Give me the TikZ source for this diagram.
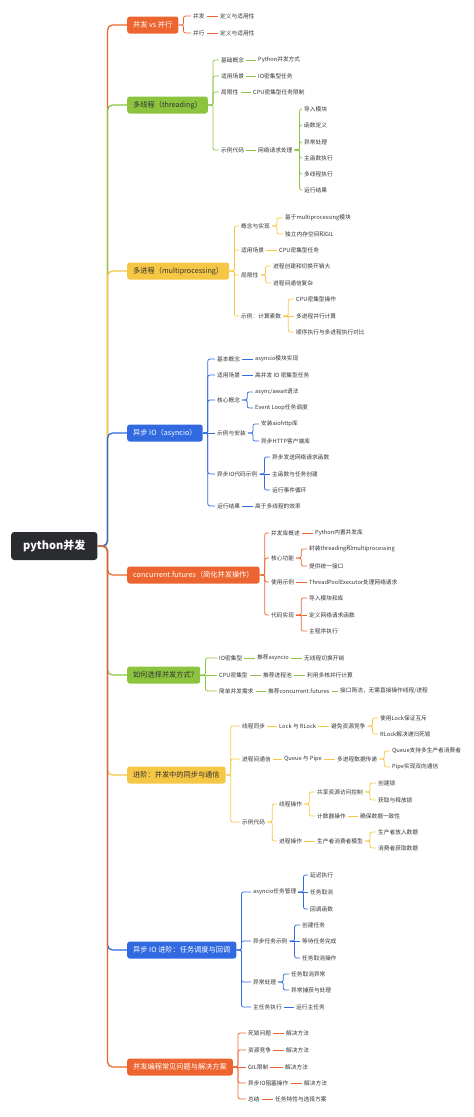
\documentclass[tikz,border=0pt]{standalone}
\usepackage{fontspec}
\newfontfamily\cjk{Noto Sans CJK SC}
\definecolor{rootgray}{HTML}{2B2C30}
\definecolor{inkgray}{HTML}{333333}
\definecolor{orangeC}{HTML}{EC6530}
\definecolor{greenC}{HTML}{8CC43F}
\definecolor{yellowC}{HTML}{F6C744}
\definecolor{blueC}{HTML}{3069E0}
\tikzset{
  root/.style={fill=rootgray, text=white, anchor=west, rounded corners=3pt,
    minimum height=28pt, inner xsep=12pt, font=\cjk\bfseries\fontsize{11}{13}\selectfont},
  topic/.style={anchor=west, rounded corners=2.5pt, minimum height=17pt,
    inner xsep=6pt, inner ysep=0pt, font=\cjk\fontsize{7.2}{8.6}\selectfont},
  leaf/.style={anchor=west, inner xsep=2pt, inner ysep=1pt, text=inkgray,
    font=\cjk\fontsize{5.7}{6.8}\selectfont},
  spine/.style={line width=1.3pt, rounded corners=5pt},
  link/.style={line width=0.75pt, rounded corners=2pt},
}
\begin{document}
\begin{tikzpicture}[x=1pt,y=-1pt]
\useasboundingbox (0,0) rectangle (474,1117);
% root
\node[root] (root) at (11,546) {python并发};
% main topics
\node[topic, fill=orangeC, text=white] (b1) at (127,25) {并发 vs 并行};
\node[topic, fill=greenC, text=inkgray] (b2) at (127,105) {多线程（threading）};
\node[topic, fill=yellowC, text=inkgray] (b3) at (127,271) {多进程（multiprocessing）};
\node[topic, fill=blueC, text=white] (b4) at (127,433) {异步 IO（asyncio）};
\node[topic, fill=orangeC, text=white] (b5) at (127,575) {concurrent.futures（简化并发操作）};
\node[topic, fill=greenC, text=inkgray] (b6) at (127,675) {如何选择并发方式?};
\node[topic, fill=yellowC, text=inkgray] (b7) at (127,775) {进阶：并发中的同步与通信};
\node[topic, fill=blueC, text=white] (b8) at (127,950) {异步 IO 进阶：任务调度与回调};
\node[topic, fill=orangeC, text=white] (b9) at (127,1067) {并发编程常见问题与解决方案};
% spine, later branches on top
\foreach \t/\col in {b1/orangeC,b2/greenC,b3/yellowC,b4/blueC,b5/orangeC,b6/greenC,b7/yellowC,b8/blueC,b9/orangeC}
  \draw[spine,\col] (root.east) -- ++(10,0) |- (\t.west);

% 并发 vs 并行
\node[leaf] (b1a) at (191,16) {并发};
\node[leaf] (b1b) at (191,33) {并行};
\node[leaf] (b1a1) at (218,16) {定义与适用性};
\node[leaf] (b1b1) at (218,33) {定义与适用性};
\foreach \c in {b1a,b1b} \draw[link,orangeC] (b1.east) -- ++(5,0) |- (\c.west);
\foreach \a/\b in {b1a/b1a1,b1b/b1b1} \draw[link,orangeC] (\a.east) -- (\b.west);

% threading
\node[leaf] (b2a) at (219,60) {基础概念};
\node[leaf] (b2b) at (219,76) {适用场景};
\node[leaf] (b2c) at (219,92) {局限性};
\node[leaf] (b2d) at (219,150) {示例代码};
\node[leaf] (b2a1) at (256,60) {Python并发方式};
\node[leaf] (b2b1) at (256,76) {IO密集型任务};
\node[leaf] (b2c1) at (251,92) {CPU密集型任务限制};
\node[leaf] (b2d1) at (256,150) {网络请求处理};
\node[leaf] (b2d1a) at (302,109) {导入模块};
\node[leaf] (b2d1b) at (302,125) {函数定义};
\node[leaf] (b2d1c) at (302,142) {异常处理};
\node[leaf] (b2d1d) at (302,158) {主函数执行};
\node[leaf] (b2d1e) at (302,174) {多线程执行};
\node[leaf] (b2d1f) at (302,190) {运行结果};
\foreach \c in {b2a,b2b,b2c,b2d} \draw[link,greenC] (b2.east) -- ++(5,0) |- (\c.west);
\foreach \a/\b in {b2a/b2a1,b2b/b2b1,b2c/b2c1,b2d/b2d1} \draw[link,greenC] (\a.east) -- (\b.west);
\foreach \c in {b2d1a,b2d1b,b2d1c,b2d1d,b2d1e,b2d1f} \draw[link,greenC] (b2d1.east) -- ++(5,0) |- (\c.west);

% multiprocessing
\node[leaf] (b3a) at (239,226) {概念与实现};
\node[leaf] (b3b) at (239,250) {适用场景};
\node[leaf] (b3c) at (239,275) {局限性};
\node[leaf] (b3d) at (239,316) {示例：计算素数};
\node[leaf] (b3a1) at (283,218) {基于multiprocessing模块};
\node[leaf] (b3a2) at (283,234) {独立内存空间和GIL};
\node[leaf] (b3b1) at (277,250) {CPU密集型任务};
\node[leaf] (b3c1) at (271,266) {进程创建和切换开销大};
\node[leaf] (b3c2) at (271,283) {进程间通信复杂};
\node[leaf] (b3d1) at (294,299) {CPU密集型操作};
\node[leaf] (b3d2) at (294,316) {多进程并行计算};
\node[leaf] (b3d3) at (294,332) {顺序执行与多进程执行对比};
\foreach \c in {b3a,b3b,b3c,b3d} \draw[link,yellowC] (b3.east) -- ++(5,0) |- (\c.west);
\foreach \a/\b in {b3a/b3a1,b3a/b3a2,b3c/b3c1,b3c/b3c2,b3d/b3d1,b3d/b3d3} \draw[link,yellowC] (\a.east) -- ++(5,0) |- (\b.west);
\foreach \a/\b in {b3b/b3b1,b3d/b3d2} \draw[link,yellowC] (\a.east) -- (\b.west);

% asyncio
\node[leaf] (b4a) at (215,359) {基本概念};
\node[leaf] (b4b) at (215,375) {适用场景};
\node[leaf] (b4c) at (215,400) {核心概念};
\node[leaf] (b4d) at (215,433) {示例与安装};
\node[leaf] (b4e) at (215,474) {异步IO代码示例};
\node[leaf] (b4f) at (215,506) {运行结果};
\node[leaf] (b4a1) at (253,359) {asyncio模块实现};
\node[leaf] (b4b1) at (253,375) {高并发 IO 密集型任务};
\node[leaf] (b4c1) at (253,392) {async/await语法};
\node[leaf] (b4c2) at (253,408) {Event Loop任务调度};
\node[leaf] (b4d1) at (259,424) {安装aiohttp库};
\node[leaf] (b4d2) at (259,441) {异步HTTP客户端库};
\node[leaf] (b4e1) at (270,457) {异步发送网络请求函数};
\node[leaf] (b4e2) at (270,474) {主函数与任务创建};
\node[leaf] (b4e3) at (270,490) {运行事件循环};
\node[leaf] (b4f1) at (253,506) {高于多线程的效率};
\foreach \c in {b4a,b4b,b4c,b4e,b4f} \draw[link,blueC] (b4.east) -- ++(5,0) |- (\c.west);
\draw[link,blueC] (b4.east) -- (b4d.west);
\foreach \a/\b in {b4c/b4c1,b4c/b4c2,b4d/b4d1,b4d/b4d2,b4e/b4e1,b4e/b4e3} \draw[link,blueC] (\a.east) -- ++(5,0) |- (\b.west);
\foreach \a/\b in {b4a/b4a1,b4b/b4b1,b4e/b4e2,b4f/b4f1} \draw[link,blueC] (\a.east) -- (\b.west);

% concurrent.futures
\node[leaf] (b5a) at (269,533) {并发库概述};
\node[leaf] (b5b) at (269,558) {核心功能};
\node[leaf] (b5c) at (269,582) {使用示例};
\node[leaf] (b5d) at (269,615) {代码实现};
\node[leaf] (b5a1) at (313,533) {Python内置并发库};
\node[leaf] (b5b1) at (307,549) {封装threading和multiprocessing};
\node[leaf] (b5b2) at (307,566) {提供统一接口};
\node[leaf] (b5c1) at (307,582) {ThreadPoolExecutor处理网络请求};
\node[leaf] (b5d1) at (307,598) {导入模块和库};
\node[leaf] (b5d2) at (307,615) {定义网络请求函数};
\node[leaf] (b5d3) at (307,631) {主程序执行};
\foreach \c in {b5a,b5b,b5c,b5d} \draw[link,orangeC] (b5.east) -- ++(5,0) |- (\c.west);
\foreach \a/\b in {b5b/b5b1,b5b/b5b2,b5d/b5d1,b5d/b5d3} \draw[link,orangeC] (\a.east) -- ++(5,0) |- (\b.west);
\foreach \a/\b in {b5a/b5a1,b5c/b5c1,b5d/b5d2} \draw[link,orangeC] (\a.east) -- (\b.west);

% 如何选择
\node[leaf] (b6a) at (217,658) {IO密集型};
\node[leaf] (b6b) at (217,675) {CPU密集型};
\node[leaf] (b6c) at (217,691) {简单并发需求};
\node[leaf] (b6a1) at (255,658) {推荐asyncio};
\node[leaf] (b6b1) at (261,675) {推荐进程池};
\node[leaf] (b6c1) at (266,691) {推荐concurrent.futures};
\node[leaf] (b6a2) at (302,658) {无线程切换开销};
\node[leaf] (b6b2) at (305,675) {利用多核并行计算};
\node[leaf] (b6c2) at (338,691) {接口简洁，无需直接操作线程/进程};
\foreach \c in {b6a,b6c} \draw[link,greenC] (b6.east) -- ++(5,0) |- (\c.west);
\draw[link,greenC] (b6.east) -- (b6b.west);
\foreach \a/\b in {b6a/b6a1,b6a1/b6a2,b6b/b6b1,b6b1/b6b2,b6c/b6c1,b6c1/b6c2} \draw[link,greenC] (\a.east) -- (\b.west);

% 进阶 同步与通信
\node[leaf] (b7a) at (240,726) {线程同步};
\node[leaf] (b7b) at (240,759) {进程间通信};
\node[leaf] (b7c) at (240,822) {示例代码};
\node[leaf] (b7a1) at (277,726) {Lock 与 RLock};
\node[leaf] (b7a2) at (329,726) {避免资源竞争};
\node[leaf] (b7a3) at (378,718) {使用Lock保证互斥};
\node[leaf] (b7a4) at (378,734) {RLock解决递归死锁};
\node[leaf] (b7b1) at (282,759) {Queue 与 Pipe};
\node[leaf] (b7b2) at (335,759) {多进程数据传递};
\node[leaf] (b7b3) at (390,751) {Queue支持多生产者消费者};
\node[leaf] (b7b4) at (390,767) {Pipe实现双向通信};
\node[leaf] (b7c1) at (277,804) {线程操作};
\node[leaf] (b7c2) at (277,841) {进程操作};
\node[leaf] (b7d) at (315,792) {共享资源访问控制};
\node[leaf] (b7e) at (315,816) {计数器操作};
\node[leaf] (b7d1) at (376,783) {创建锁};
\node[leaf] (b7d2) at (376,800) {获取与释放锁};
\node[leaf] (b7e1) at (358,816) {确保数据一致性};
\node[leaf] (b7f) at (315,841) {生产者消费者模型};
\node[leaf] (b7f1) at (376,832) {生产者放入数据};
\node[leaf] (b7f2) at (376,848) {消费者获取数据};
\foreach \c in {b7a,b7b,b7c} \draw[link,yellowC] (b7.east) -- ++(5,0) |- (\c.west);
\foreach \a/\b in {b7a2/b7a3,b7a2/b7a4,b7b2/b7b3,b7b2/b7b4,b7c/b7c1,b7c/b7c2,b7c1/b7d,b7c1/b7e,b7d/b7d1,b7d/b7d2,b7f/b7f1,b7f/b7f2}
  \draw[link,yellowC] (\a.east) -- ++(5,0) |- (\b.west);
\foreach \a/\b in {b7a/b7a1,b7a1/b7a2,b7b/b7b1,b7b1/b7b2,b7e/b7e1,b7c2/b7f} \draw[link,yellowC] (\a.east) -- (\b.west);

% 异步 IO 进阶
\node[leaf] (b8a) at (251,892) {asyncio任务管理};
\node[leaf] (b8b) at (251,941) {异步任务示例};
\node[leaf] (b8c) at (251,982) {异常处理};
\node[leaf] (b8d) at (251,1007) {主任务执行};
\node[leaf] (b8a1) at (308,875) {延迟执行};
\node[leaf] (b8a2) at (308,892) {任务取消};
\node[leaf] (b8a3) at (308,909) {回调函数};
\node[leaf] (b8b1) at (300,925) {创建任务};
\node[leaf] (b8b2) at (300,941) {等待任务完成};
\node[leaf] (b8b3) at (300,958) {任务取消操作};
\node[leaf] (b8c1) at (289,974) {任务取消异常};
\node[leaf] (b8c2) at (289,990) {异常捕获与处理};
\node[leaf] (b8d1) at (294,1007) {运行主任务};
\foreach \c in {b8a,b8b,b8c,b8d} \draw[link,blueC] (b8.east) -- ++(5,0) |- (\c.west);
\foreach \a/\b in {b8a/b8a1,b8a/b8a3,b8b/b8b1,b8b/b8b3,b8c/b8c1,b8c/b8c2} \draw[link,blueC] (\a.east) -- ++(5,0) |- (\b.west);
\foreach \a/\b in {b8a/b8a2,b8b/b8b2,b8d/b8d1} \draw[link,blueC] (\a.east) -- (\b.west);

% 常见问题
\node[leaf] (b9a) at (246,1033) {死锁问题};
\node[leaf] (b9b) at (246,1050) {资源竞争};
\node[leaf] (b9c) at (246,1067) {GIL限制};
\node[leaf] (b9d) at (246,1083) {异步IO阻塞操作};
\node[leaf] (b9e) at (246,1099) {总结};
\node[leaf] (b9a1) at (284,1033) {解决方法};
\node[leaf] (b9b1) at (284,1050) {解决方法};
\node[leaf] (b9c1) at (283,1067) {解决方法};
\node[leaf] (b9d1) at (302,1083) {解决方法};
\node[leaf] (b9e1) at (273,1099) {任务特性与选择方案};
\foreach \c in {b9a,b9b,b9d,b9e} \draw[link,orangeC] (b9.east) -- ++(5,0) |- (\c.west);
\draw[link,orangeC] (b9.east) -- (b9c.west);
\foreach \a/\b in {b9a/b9a1,b9b/b9b1,b9c/b9c1,b9d/b9d1,b9e/b9e1} \draw[link,orangeC] (\a.east) -- (\b.west);
\end{tikzpicture}
\end{document}
